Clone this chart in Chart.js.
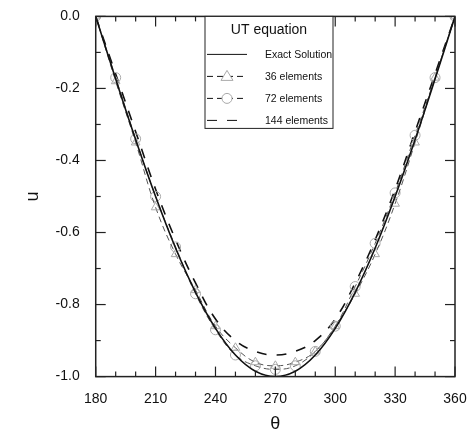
<!DOCTYPE html><html><head><script src="https://cdn.jsdelivr.net/npm/chart.js@4"></script>
<style>body{margin:0;background:#fff}#w{width:474px;height:439px}</style></head><body><div id="w"><canvas id="c"></canvas></div>
<script>
const theta=[180,190,200,210,220,230,240,250,260,270,280,290,300,310,320,330,340,350,360];
const exact=[0,-0.174,-0.342,-0.5,-0.643,-0.766,-0.866,-0.94,-0.985,-1,-0.985,-0.94,-0.866,-0.766,-0.643,-0.5,-0.342,-0.174,0];
const el36=[0,-0.18,-0.35,-0.53,-0.66,-0.76,-0.86,-0.92,-0.96,-0.97,-0.96,-0.93,-0.86,-0.77,-0.66,-0.52,-0.35,-0.17,0];
const el72=[0,-0.17,-0.34,-0.5,-0.64,-0.77,-0.87,-0.94,-0.97,-0.98,-0.97,-0.93,-0.86,-0.75,-0.63,-0.49,-0.33,-0.17,0];
const el144=[0,-0.16,-0.32,-0.48,-0.62,-0.74,-0.84,-0.9,-0.93,-0.94,-0.93,-0.9,-0.84,-0.74,-0.62,-0.48,-0.32,-0.16,0];
const xTicks=[180,210,240,270,300,330,360];
const yTicks=[0,-0.2,-0.4,-0.6,-0.8,-1.0];
const legendTitle='UT equation';
const legendNames=['Exact Solution','36 elements','72 elements','144 elements'];
const pts=a=>theta.map((t,i)=>({x:t,y:a[i]}));
const ticksPlugin={id:'tk',afterDraw(ch){const c=ch.ctx,x=ch.scales.x,y=ch.scales.y,a=ch.chartArea;c.save();c.strokeStyle='#222';c.lineWidth=1.2;
for(let v=180;v<=360;v+=10){const p=x.getPixelForValue(v),L=(v%30==0)?10:5;c.beginPath();c.moveTo(p,a.bottom);c.lineTo(p,a.bottom-L);c.stroke();c.beginPath();c.moveTo(p,a.top);c.lineTo(p,a.top+L);c.stroke();}
for(let k=0;k<=10;k++){const v=-k/10,p=y.getPixelForValue(v),L=(k%2==0)?10:5;c.beginPath();c.moveTo(a.left,p);c.lineTo(a.left+L,p);c.stroke();c.beginPath();c.moveTo(a.right,p);c.lineTo(a.right-L,p);c.stroke();}
c.lineWidth=1.5;c.strokeRect(a.left,a.top,a.right-a.left,a.bottom-a.top);
const lx=205,ly=a.top,lw=128,lh=112;c.fillStyle='#fff';c.fillRect(lx,ly,lw,lh);c.lineWidth=1;c.strokeRect(lx,ly,lw,lh);
c.fillStyle='#111';c.font='14px Arial';c.textAlign='center';c.fillText(legendTitle,lx+lw/2,ly+18);
c.font='10.5px Arial';c.textAlign='left';const st=[[],[6,4],[6,4],[10,10]];
legendNames.forEach((n,i)=>{const yy=ly+38+i*22;c.setLineDash(st[i]);c.strokeStyle='#111';c.beginPath();c.moveTo(lx+2,yy);c.lineTo(lx+42,yy);c.stroke();c.setLineDash([]);
if(i==1){c.strokeStyle='#aaa';c.beginPath();c.moveTo(lx+22,yy-6);c.lineTo(lx+28,yy+4);c.lineTo(lx+16,yy+4);c.closePath();c.fillStyle='#fff';c.fill();c.stroke();}
if(i==2){c.strokeStyle='#aaa';c.beginPath();c.arc(lx+22,yy,5,0,7);c.fillStyle='#fff';c.fill();c.stroke();}
c.fillStyle='#111';c.fillText(n,lx+60,yy+4);});
c.restore();}};
new Chart(document.getElementById('c'),{type:'scatter',data:{datasets:[
{label:legendNames[0],data:pts(exact),showLine:true,borderColor:'#111',borderWidth:1.6,pointRadius:0,tension:0.4},
{label:legendNames[1],data:pts(el36),showLine:true,borderColor:'#555',borderWidth:1,borderDash:[6,4],pointStyle:'triangle',pointRadius:5,pointBorderColor:'#aaa',pointBackgroundColor:'rgba(0,0,0,0)',tension:0.4},
{label:legendNames[2],data:pts(el72),showLine:true,borderColor:'#555',borderWidth:1,borderDash:[6,4],pointStyle:'circle',pointRadius:5,pointBorderColor:'#aaa',pointBackgroundColor:'rgba(0,0,0,0)',tension:0.4},
{label:legendNames[3],data:pts(el144),showLine:true,borderColor:'#111',borderWidth:1.6,borderDash:[10,10],pointRadius:0,tension:0.4}]},
options:{responsive:true,maintainAspectRatio:false,animation:false,layout:{padding:{top:3,right:19,left:18,bottom:4}},
plugins:{legend:{display:false},tooltip:{enabled:false}},
scales:{x:{type:'linear',min:180,max:360,afterBuildTicks:s=>{s.ticks=xTicks.map(v=>({value:v}))},grid:{display:false},border:{display:false},ticks:{color:'#111',font:{size:14,family:'Arial'},padding:6},title:{display:true,text:'θ',color:'#111',font:{size:18,family:'Arial'},padding:0}},
y:{min:-1,max:0,afterBuildTicks:s=>{s.ticks=yTicks.map(v=>({value:v}))},grid:{display:false},border:{display:false},ticks:{color:'#111',font:{size:14,family:'Arial'},padding:8,callback:v=>v.toFixed(1)},title:{display:true,text:'u',color:'#111',font:{size:18,family:'Arial'},padding:4}}}},
plugins:[ticksPlugin]});
</script></body></html>
